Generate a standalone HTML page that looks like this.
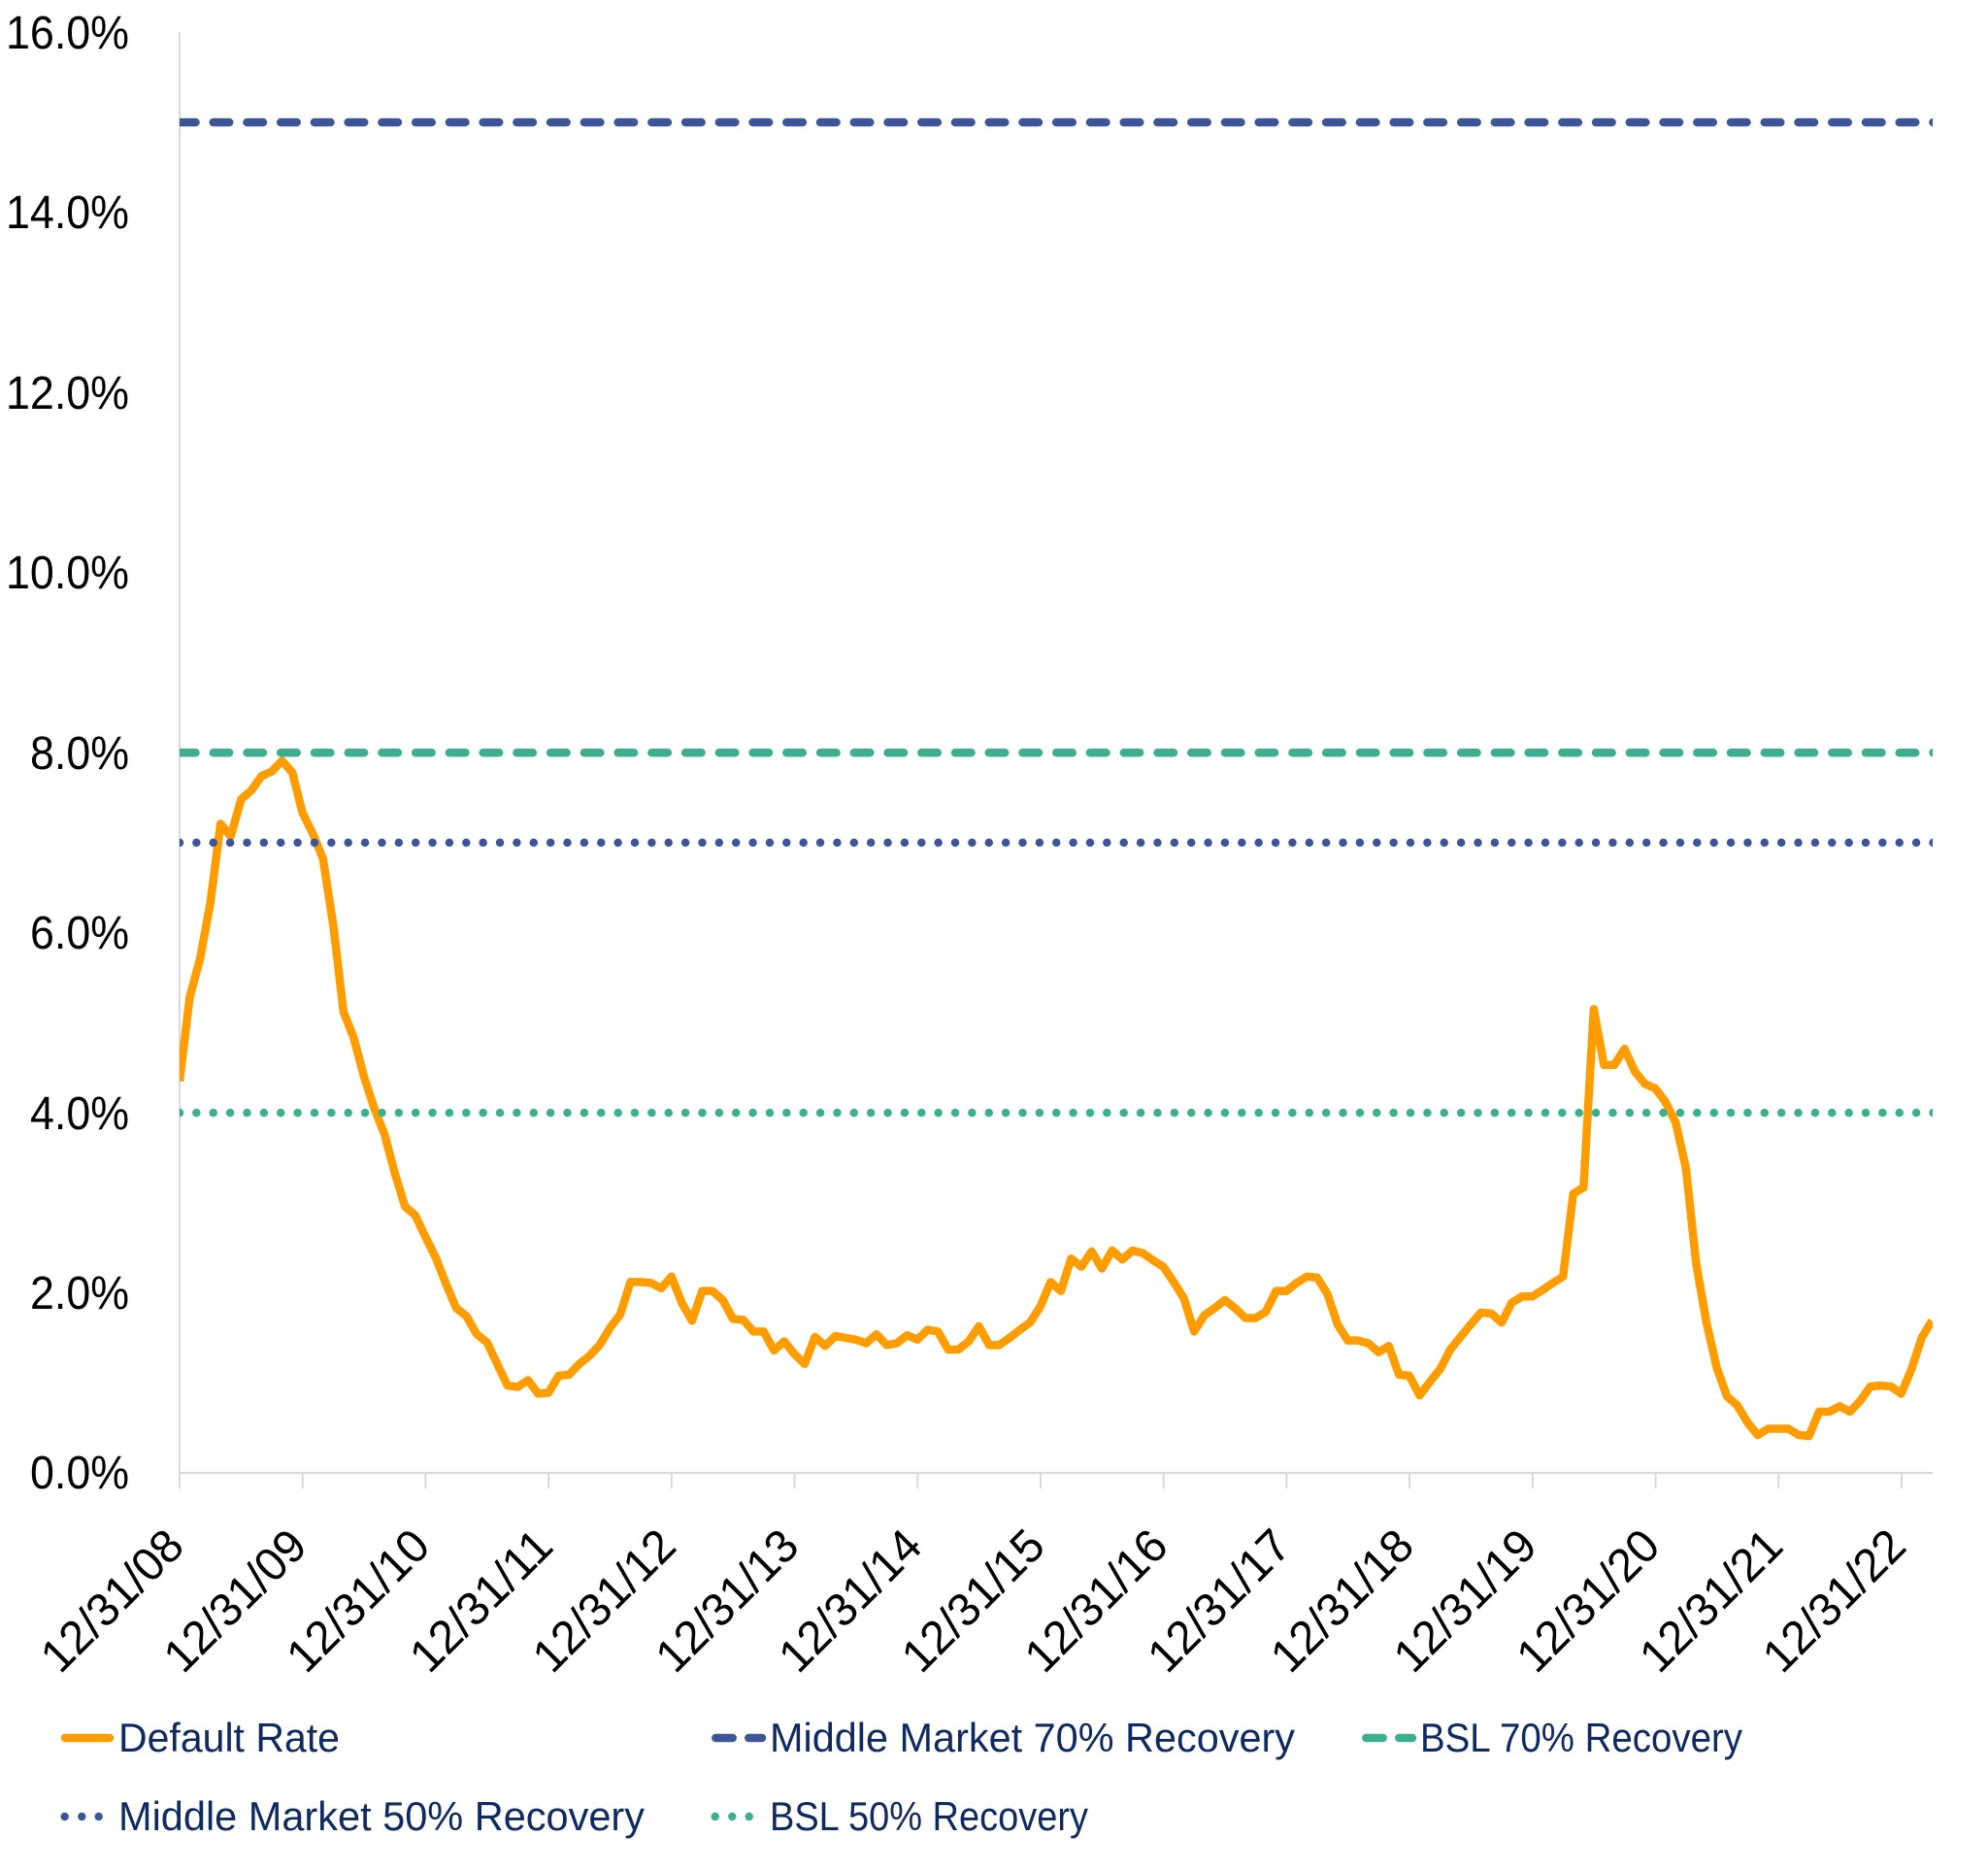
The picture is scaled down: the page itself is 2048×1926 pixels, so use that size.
<!DOCTYPE html>
<html>
<head>
<meta charset="utf-8">
<style>
  html, body { margin:0; padding:0; background:#ffffff; }
  body { width:2048px; height:1926px; overflow:hidden; }
  svg { display:block; }
  .yl { font-family:"Liberation Sans", sans-serif; font-size:48px; fill:#000; }
  .xl { font-family:"Liberation Sans", sans-serif; font-size:48px; fill:#000; }
  .lg { font-family:"Liberation Sans", sans-serif; font-size:42px; fill:#0F2A60; }
</style>
</head>
<body>
<svg width="2048" height="1926" viewBox="0 0 2048 1926" xmlns="http://www.w3.org/2000/svg">
  <defs>
    <clipPath id="plot">
      <rect x="185" y="20" width="1806" height="1510"/>
    </clipPath>
  </defs>
  <rect x="0" y="0" width="2048" height="1926" fill="#ffffff"/>

  <!-- axes -->
  <line x1="185" y1="33" x2="185" y2="1533" stroke="#D9D9D9" stroke-width="2"/>
  <line x1="185" y1="1517" x2="1991" y2="1517" stroke="#D9D9D9" stroke-width="2"/>
  <g stroke="#D9D9D9" stroke-width="2">
    <line x1="311.7" y1="1517" x2="311.7" y2="1533"/>
    <line x1="438.4" y1="1517" x2="438.4" y2="1533"/>
    <line x1="565.1" y1="1517" x2="565.1" y2="1533"/>
    <line x1="691.8" y1="1517" x2="691.8" y2="1533"/>
    <line x1="818.5" y1="1517" x2="818.5" y2="1533"/>
    <line x1="945.3" y1="1517" x2="945.3" y2="1533"/>
    <line x1="1072" y1="1517" x2="1072" y2="1533"/>
    <line x1="1198.7" y1="1517" x2="1198.7" y2="1533"/>
    <line x1="1325.4" y1="1517" x2="1325.4" y2="1533"/>
    <line x1="1452.1" y1="1517" x2="1452.1" y2="1533"/>
    <line x1="1578.8" y1="1517" x2="1578.8" y2="1533"/>
    <line x1="1705.5" y1="1517" x2="1705.5" y2="1533"/>
    <line x1="1832.2" y1="1517" x2="1832.2" y2="1533"/>
    <line x1="1959" y1="1517" x2="1959" y2="1533"/>
  </g>

  <!-- y labels -->
  <g class="yl" text-anchor="end">
    <text x="133" y="50" textLength="127" lengthAdjust="spacingAndGlyphs">16.0%</text>
    <text x="133" y="235" textLength="127" lengthAdjust="spacingAndGlyphs">14.0%</text>
    <text x="133" y="421" textLength="127" lengthAdjust="spacingAndGlyphs">12.0%</text>
    <text x="133" y="606" textLength="127" lengthAdjust="spacingAndGlyphs">10.0%</text>
    <text x="133" y="792" textLength="102" lengthAdjust="spacingAndGlyphs">8.0%</text>
    <text x="133" y="977" textLength="102" lengthAdjust="spacingAndGlyphs">6.0%</text>
    <text x="133" y="1163" textLength="102" lengthAdjust="spacingAndGlyphs">4.0%</text>
    <text x="133" y="1348" textLength="102" lengthAdjust="spacingAndGlyphs">2.0%</text>
    <text x="133" y="1533" textLength="102" lengthAdjust="spacingAndGlyphs">0.0%</text>
  </g>

  <!-- x labels -->
  <g class="xl" text-anchor="end">
    <text transform="translate(192,1595) rotate(-45)" textLength="184" lengthAdjust="spacingAndGlyphs">12/31/08</text>
    <text transform="translate(318.7,1595) rotate(-45)" textLength="184" lengthAdjust="spacingAndGlyphs">12/31/09</text>
    <text transform="translate(445.4,1595) rotate(-45)" textLength="184" lengthAdjust="spacingAndGlyphs">12/31/10</text>
    <text transform="translate(572.1,1595) rotate(-45)" textLength="184" lengthAdjust="spacingAndGlyphs">12/31/11</text>
    <text transform="translate(698.8,1595) rotate(-45)" textLength="184" lengthAdjust="spacingAndGlyphs">12/31/12</text>
    <text transform="translate(825.5,1595) rotate(-45)" textLength="184" lengthAdjust="spacingAndGlyphs">12/31/13</text>
    <text transform="translate(952.3,1595) rotate(-45)" textLength="184" lengthAdjust="spacingAndGlyphs">12/31/14</text>
    <text transform="translate(1079,1595) rotate(-45)" textLength="184" lengthAdjust="spacingAndGlyphs">12/31/15</text>
    <text transform="translate(1205.7,1595) rotate(-45)" textLength="184" lengthAdjust="spacingAndGlyphs">12/31/16</text>
    <text transform="translate(1332.4,1595) rotate(-45)" textLength="184" lengthAdjust="spacingAndGlyphs">12/31/17</text>
    <text transform="translate(1459.1,1595) rotate(-45)" textLength="184" lengthAdjust="spacingAndGlyphs">12/31/18</text>
    <text transform="translate(1585.8,1595) rotate(-45)" textLength="184" lengthAdjust="spacingAndGlyphs">12/31/19</text>
    <text transform="translate(1712.5,1595) rotate(-45)" textLength="184" lengthAdjust="spacingAndGlyphs">12/31/20</text>
    <text transform="translate(1839.2,1595) rotate(-45)" textLength="184" lengthAdjust="spacingAndGlyphs">12/31/21</text>
    <text transform="translate(1966,1595) rotate(-45)" textLength="184" lengthAdjust="spacingAndGlyphs">12/31/22</text>
  </g>

  <g clip-path="url(#plot)">
    <!-- Default rate -->
    <g transform="translate(185 1517) scale(10.557 -92.73)">
      <polyline fill="none" stroke="#FF9D00" stroke-width="8.5" stroke-linejoin="round" stroke-linecap="butt" vector-effect="non-scaling-stroke"
        points="0,4.35 1,5.29 2,5.71 3,6.33 4,7.21 5,7.07 6,7.48 7,7.58 8,7.74 9,7.79 10,7.91 11,7.78 12,7.33 13,7.10 14,6.82 15,6.08 16,5.12 17,4.83 18,4.40 19,4.05 20,3.76 21,3.33 22,2.96 23,2.86 24,2.62 25,2.39 26,2.10 27,1.83 28,1.74 29,1.54 30,1.45 31,1.21 32,0.97 33,0.955 34,1.03 35,0.88 36,0.89 37,1.08 38,1.09 39,1.21 40,1.30 41,1.42 42,1.61 43,1.76 44,2.12 45,2.12 46,2.11 47,2.05 48,2.18 49,1.89 50,1.69 51,2.02 52,2.02 53,1.92 54,1.71 55,1.70 56,1.57 57,1.57 58,1.36 59,1.46 60,1.32 61,1.21 62,1.51 63,1.41 64,1.52 65,1.50 66,1.48 67,1.44 68,1.54 69,1.42 70,1.44 71,1.53 72,1.48 73,1.59 74,1.57 75,1.37 76,1.37 77,1.46 78,1.63 79,1.42 80,1.42 81,1.50 82,1.59 83,1.67 84,1.85 85,2.12 86,2.02 87,2.38 88,2.29 89,2.46 90,2.27 91,2.47 92,2.37 93,2.47 94,2.44 95,2.36 96,2.29 97,2.12 98,1.94 99,1.57 100,1.75 101,1.83 102,1.92 103,1.83 104,1.72 105,1.72 106,1.79 107,2.02 108,2.02 109,2.11 110,2.18 111,2.17 112,1.99 113,1.65 114,1.47 115,1.47 116,1.44 117,1.34 118,1.41 119,1.09 120,1.08 121,0.86 122,1.01 123,1.15 124,1.37 125,1.51 126,1.65 127,1.78 128,1.77 129,1.67 130,1.89 131,1.96 132,1.96 133,2.03 134,2.11 135,2.18 136,3.10 137,3.17 138,5.15 139,4.53 140,4.53 141,4.71 142,4.46 143,4.32 144,4.27 145,4.12 146,3.89 147,3.38 148,2.32 149,1.67 150,1.17 151,0.85 152,0.75 153,0.56 154,0.42 155,0.49 156,0.49 157,0.49 158,0.42 159,0.41 160,0.68 161,0.68 162,0.74 163,0.68 164,0.80 165,0.96 166,0.97 167,0.96 168,0.88 169,1.15 170,1.50 171,1.69"/>
    </g>

    <!-- Middle Market 70% (15%) dashed -->
    <line x1="185" y1="126" x2="1995" y2="126" stroke="#3D5597" stroke-width="8.5" stroke-linecap="round" stroke-dasharray="16.5 18.24"/>
    <!-- BSL 70% (8%) dashed -->
    <line x1="185" y1="775.2" x2="1995" y2="775.2" stroke="#3BAF8F" stroke-width="8.5" stroke-linecap="round" stroke-dasharray="16.5 18.24"/>
    <!-- Middle Market 50% (7%) dotted -->
    <line x1="185" y1="867.9" x2="1995" y2="867.9" stroke="#3D5597" stroke-width="8.5" stroke-linecap="round" stroke-dasharray="0 17.37"/>
    <!-- BSL 50% (4%) dotted -->
    <line x1="185" y1="1146.1" x2="1995" y2="1146.1" stroke="#3BAF8F" stroke-width="8.5" stroke-linecap="round" stroke-dasharray="0 17.37"/>
  </g>

  <!-- Legend -->
  <line x1="67" y1="1790" x2="113" y2="1790" stroke="#FF9D00" stroke-width="8.5" stroke-linecap="round"/>
  <text class="lg" x="122" y="1804" textLength="228" lengthAdjust="spacingAndGlyphs">Default Rate</text>

  <g stroke="#3D5597" stroke-width="8.5" stroke-linecap="round">
    <line x1="737.3" y1="1790" x2="754.7" y2="1790"/>
    <line x1="771.3" y1="1790" x2="785" y2="1790"/>
  </g>
  <text class="lg" x="793" y="1804" textLength="541" lengthAdjust="spacingAndGlyphs">Middle Market 70% Recovery</text>

  <g stroke="#3BAF8F" stroke-width="8.5" stroke-linecap="round">
    <line x1="1407.3" y1="1790" x2="1424.7" y2="1790"/>
    <line x1="1441.3" y1="1790" x2="1455" y2="1790"/>
  </g>
  <text class="lg" x="1463" y="1804" textLength="332" lengthAdjust="spacingAndGlyphs">BSL 70% Recovery</text>

  <g fill="#3D5597">
    <circle cx="66.7" cy="1871" r="4.2"/>
    <circle cx="84.3" cy="1871" r="4.2"/>
    <circle cx="101.7" cy="1871" r="4.2"/>
  </g>
  <text class="lg" x="122" y="1885" textLength="542" lengthAdjust="spacingAndGlyphs">Middle Market 50% Recovery</text>

  <g fill="#3BAF8F">
    <circle cx="736.7" cy="1871" r="4.2"/>
    <circle cx="754.3" cy="1871" r="4.2"/>
    <circle cx="771.7" cy="1871" r="4.2"/>
  </g>
  <text class="lg" x="793" y="1885" textLength="328" lengthAdjust="spacingAndGlyphs">BSL 50% Recovery</text>
</svg>
</body>
</html>
